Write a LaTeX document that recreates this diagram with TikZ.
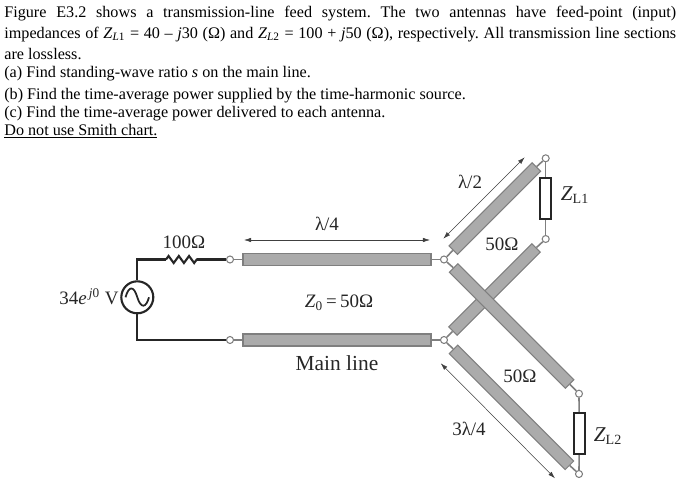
\documentclass[tikz,border=0pt]{standalone}
\usepackage{fontspec}
\setmainfont{Liberation Serif}
\usetikzlibrary{arrows.meta, decorations.pathmorphing}
\definecolor{linegray}{HTML}{ABABAB}
\definecolor{edgegray}{HTML}{7F7F7F}
\frenchspacing
\tikzset{
	textline/.style={anchor=base west, inner sep=0pt, font=\fontsize{9.2}{11}\selectfont},
	lab/.style={inner sep=0pt, font=\fontsize{10.8}{13}\selectfont, text=black!85},
	tline/.style={draw=edgegray, fill=linegray, line width=.6pt, minimum height=.24cm, inner sep=0pt},
	term/.style={circle, draw=edgegray, fill=white, line width=.6pt, minimum size=.14cm, inner sep=0pt},
	stub/.style={edgegray, line width=.9pt},
	wire/.style={black!85, line width=1.2pt},
	load/.style={draw=black!85, fill=white, line width=1.2pt, minimum width=.22cm, minimum height=.82cm, inner sep=0pt},
	dim/.style={black!75, line width=.3pt, {Latex[length=4pt,width=2.5pt]}-{Latex[length=4pt,width=2.5pt]}}
}
\begin{document}
\begin{tikzpicture}[x=.02cm, y=-.02cm]
	\useasboundingbox (0,0) rectangle (694,490);

	%problem text
	\node[textline] (l1) at (4,17) {\makebox[13.44cm][s]{Figure E3.2 shows a transmission-line feed system. The two antennas have feed-point (input)}};
	\node[textline] (l2) at (4,38) {\makebox[13.44cm][s]{impedances of \textit{Z}\textsubscript{\textit{L}1} = 40 -- \textit{j}30 (Ω) and \textit{Z}\textsubscript{\textit{L}2} = 100 + \textit{j}50 (Ω), respectively. All transmission line sections}};
	\node[textline] (l3) at (4,59) {are lossless.};
	\node[textline] (l4) at (4,77) {(a) Find standing-wave ratio \textit{s} on the main line.};
	\node[textline] (l5) at (4,99.5) {(b) Find the time-average power supplied by the time-harmonic source.};
	\node[textline] (l6) at (4,117.5) {(c) Find the time-average power delivered to each antenna.};
	\node[textline] (l7) at (4,135) {\underline{Do not use Smith chart.}};

	%main line
	\node[tline, minimum width=3.76cm] (main1) at (337,259.5) {};
	\node[tline, minimum width=3.76cm] (main2) at (337,340) {};

	%branches
	\node[tline, minimum width=2.35cm, rotate=45] (up1) at (494.8,208.5) {};
	\node[tline, minimum width=2.35cm, rotate=45] (up2) at (494.5,289.5) {};
	\node[tline, minimum width=3.28cm, rotate=-45] (down1) at (511.6,326) {};
	\node[tline, minimum width=3.28cm, rotate=-45] (down2) at (511.5,407.3) {};

	%terminals
	\node[term] (t1) at (230,259.5) {};
	\node[term] (t2) at (230,340) {};
	\node[term] (j1) at (444,259.5) {};
	\node[term] (j2) at (444,340) {};
	\node[term] (a1) at (545.7,158.3) {};
	\node[term] (a2) at (545.7,239) {};
	\node[term] (b1) at (579,393.7) {};
	\node[term] (b2) at (579,474) {};

	%loads
	\node[load] (zl1) at (545.7,198.7) {};
	\node[load] (zl2) at (579.2,433.5) {};

	\draw[stub] (t1) -- (main1.west);
	\draw[stub] (t2) -- (main2.west);
	\draw[stub] (main1.east) -- (j1);
	\draw[stub] (main2.east) -- (j2);
	\draw[stub] (j1) -- (up1.west);
	\draw[stub] (j1) -- (down1.west);
	\draw[stub] (j2) -- (up2.west);
	\draw[stub] (j2) -- (down2.west);
	\draw[stub] (up1.east) -- (a1);
	\draw[stub] (up2.east) -- (a2);
	\draw[stub] (down1.east) -- (b1);
	\draw[stub] (down2.east) -- (b2);
	\draw[stub] (a1) -- (zl1);
	\draw[stub] (a2) -- (zl1);
	\draw[stub] (b1) -- (zl2);
	\draw[stub] (b2) -- (zl2);

	%source
	\node[circle, draw=black!85, line width=1.2pt, minimum size=.64cm, inner sep=0pt] (src) at (137.3,297.3) {};
	\draw[black!85, line width=1pt] (125.5,297.3) .. controls (129,285) and (134,286) .. (137.3,297.3) .. controls (141,309) and (146,308) .. (149,297.3);
	\coordinate (r1) at (166,259.5);
	\coordinate (r2) at (197,259.5);
	\draw[wire] (src.north) |- (r1);
	\draw[wire, decorate, decoration={zigzag, amplitude=.07cm, segment length=.205cm}] (r1) -- (r2);
	\draw[wire] (r2) -- (t1);
	\draw[wire] (src.south) |- (t2);

	%dimension arrows
	\coordinate (d1) at (244,240);
	\coordinate (d2) at (430,240);
	\coordinate (d3) at (443.3,238.7);
	\coordinate (d4) at (524.7,157.3);
	\coordinate (d5) at (440.7,363.3);
	\coordinate (d6) at (555,478.3);
	\draw[dim] (d1) -- (d2);
	\draw[dim] (d3) -- (d4);
	\draw[dim] (d5) -- (d6);

	%labels
	\node[lab] (len1) at (327,224) {λ/4};
	\node[lab] (len2) at (470,182) {λ/2};
	\node[lab] (len3) at (469,429) {3λ/4};
	\node[lab] (rlab) at (184,242) {100Ω};
	\node[lab, anchor=east] (vlab) at (119,297) {34\textit{e}\textsuperscript{\,\textit{j}0} V};
	\node[lab] (zlab) at (339,303) {\textit{Z}\textsubscript{0}\,=\,50Ω};
	\node[lab, font=\fontsize{12.2}{14}\selectfont] (mlab) at (337,363) {Main line};
	\node[lab] (w1) at (502,244) {50Ω};
	\node[lab] (w2) at (520,376) {50Ω};
	\node[lab, font=\fontsize{12}{14}\selectfont] (z1) at (575,195) {\textit{Z}\textsubscript{L1}};
	\node[lab, font=\fontsize{12}{14}\selectfont] (z2) at (608,436) {\textit{Z}\textsubscript{L2}};
\end{tikzpicture}
\end{document}
